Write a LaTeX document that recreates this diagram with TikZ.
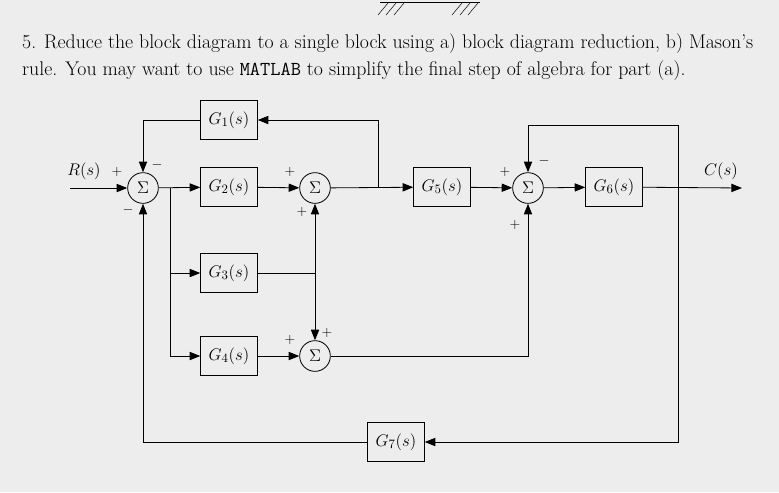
\documentclass[tikz,border=0pt]{standalone}
\usetikzlibrary{arrows.meta}
\begin{document}
\begin{tikzpicture}[x=0.03cm,y=-0.03cm,
  blk/.style={draw,line width=0.7pt,minimum width=1.7cm,minimum height=1.17cm,font=\fontsize{15}{17}\selectfont},
  sum/.style={draw,circle,line width=0.7pt,minimum size=0.92cm,inner sep=0pt,font=\fontsize{15}{17}\selectfont},
  ln/.style={line width=0.7pt},
  ar/.style={ln,-{Triangle[length=9pt,width=7pt]}},
  sg/.style={font=\fontsize{12}{14}\selectfont,inner sep=0pt}]
\fill[white!93!black] (0,0) rectangle (779,492);
\useasboundingbox (0,0) rectangle (779,492);
% top hatch fragment
\draw[ln] (380,2)--(480,2);
\foreach \x in {378,386,394,452,460,468}{\draw[line width=0.4pt] (\x,15)--(\x+10,3);}
\node[anchor=west,align=left,font=\fontsize{16.9}{23.5}\selectfont,inner sep=0pt] (txt) at (22,57) {5. Reduce the block diagram to a single block using a) block diagram reduction, b) Mason's\\ rule. You may want to use \texttt{MATLAB} to simplify the final step of algebra for part (a).};
\node[sum] (s1) at (143,188) {$\Sigma$};
\node[sum] (s2) at (315,188) {$\Sigma$};
\node[sum] (s3) at (528,188) {$\Sigma$};
\node[sum] (s4) at (315,356) {$\Sigma$};
\node[blk] (g1) at (229,120) {$G_1(s)$};
\node[blk] (g2) at (229,187) {$G_2(s)$};
\node[blk] (g3) at (229,273) {$G_3(s)$};
\node[blk] (g4) at (229,356) {$G_4(s)$};
\node[blk] (g5) at (442,187) {$G_5(s)$};
\node[blk] (g6) at (614,187) {$G_6(s)$};
\node[blk] (g7) at (396,442) {$G_7(s)$};
\coordinate (in) at (70,188);
\coordinate (out) at (742,188);
\coordinate (b1) at (170,188);
\coordinate (b2) at (378,188);
\coordinate (b3) at (678,188);
\coordinate (b4) at (315,273);
\node[font=\fontsize{15}{17}\selectfont] (R) at (84,171) {$R(s)$};
\node[font=\fontsize{15}{17}\selectfont] (C) at (721,171) {$C(s)$};
\draw[ar] (in)--(s1);
\draw[ar] (s1)--(g2);
\draw[ar] (g2)--(s2);
\draw[ar] (s2)--(g5);
\draw[ar] (g5)--(s3);
\draw[ar] (s3)--(g6);
\draw[ar] (g6)--(out);
\draw[ar] (b2)|-(g1);
\draw[ar] (g1)-|(s1);
\draw[ar] (b1)|-(g3);
\draw[ar] (b1)|-(g4);
\draw[ln] (g3)--(b4);
\draw[ar] (b4)--(s2);
\draw[ar] (b4)--(s4);
\draw[ar] (g4)--(s4);
\draw[ar] (s4)-|(s3);
\draw[ar] (b3)|-(528,125)--(s3);
\draw[ar] (b3)|-(g7);
\draw[ar] (g7)-|(s1);
% signs
\node[sg] at (117,172) {$+$};
\node[sg] at (157,165) {$-$};
\node[sg] at (128,210) {$-$};
\node[sg] at (290,172) {$+$};
\node[sg] at (302,212) {$+$};
\node[sg] at (505,172) {$+$};
\node[sg] at (544,161) {$-$};
\node[sg] at (515,225) {$+$};
\node[sg] at (290,340) {$+$};
\node[sg] at (327,333) {$+$};
\end{tikzpicture}
\end{document}
